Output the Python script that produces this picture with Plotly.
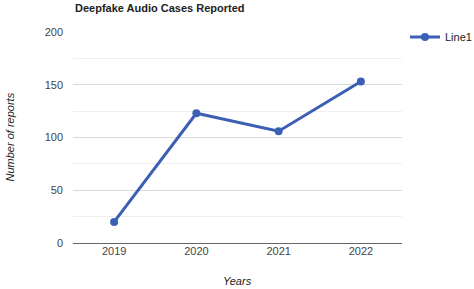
import plotly.graph_objects as go

years = ["2019", "2020", "2021", "2022"]
reports = [20, 123, 106, 153]
series_name = "Line1"

W, H = 474, 289
ml, mr, mt, mb = 73, 72, 32, 46
font = "Liberation Sans, Arial, sans-serif"
pw, ph = W - ml - mr, H - mt - mb

fig = go.Figure()
fig.add_trace(go.Scatter(
    x=years, y=reports, mode="lines+markers", name=series_name,
    line=dict(color="#3b5fb3", width=3),
    marker=dict(color="#3b5fb3", size=8),
))

fig.update_layout(
    width=W, height=H,
    margin=dict(l=ml, r=mr, t=mt, b=mb, autoexpand=False),
    paper_bgcolor="white", plot_bgcolor="white",
    font=dict(family=font, size=11, color="#444"),
    showlegend=True,
    legend=dict(x=(405 - ml) / pw, y=(H - mb - 37) / ph, xanchor="left", yanchor="middle",
                font=dict(size=11, color="#222"), itemwidth=30,
                bgcolor="rgba(0,0,0,0)"),
    title=dict(text="<b>Deepfake Audio Cases Reported</b>",
               x=(ml + 2) / W, xanchor="left", y=1 - 8 / H, yanchor="middle",
               font=dict(size=11, color="#222", family=font)),
    xaxis=dict(type="category", range=[-0.5, 3.5], showgrid=False,
               ticks="", tickfont=dict(size=11, color="#444"),
               showline=False, zeroline=False, fixedrange=True),
    yaxis=dict(range=[0, 200], dtick=50, tick0=0, showgrid=True,
               gridcolor="#d9d9d9", gridwidth=1,
               minor=dict(dtick=25, showgrid=True, gridcolor="#efefef"),
               ticks="", tickfont=dict(size=11, color="#444"),
               zeroline=True, zerolinecolor="#666", zerolinewidth=1,
               showline=False, ticklabelstandoff=9),
    annotations=[
        dict(text="<i>Number of reports</i>", xref="paper", yref="paper",
             x=-(ml - 9) / pw, y=0.5, xanchor="center", yanchor="middle",
             textangle=-90, showarrow=False, font=dict(size=11, color="#222")),
        dict(text="<i>Years</i>", xref="paper", yref="paper",
             x=0.5, y=-(281 - (H - mb)) / ph, xanchor="center", yanchor="middle",
             showarrow=False, font=dict(size=11, color="#222")),
    ],
)

fig.write_html("out.html")
